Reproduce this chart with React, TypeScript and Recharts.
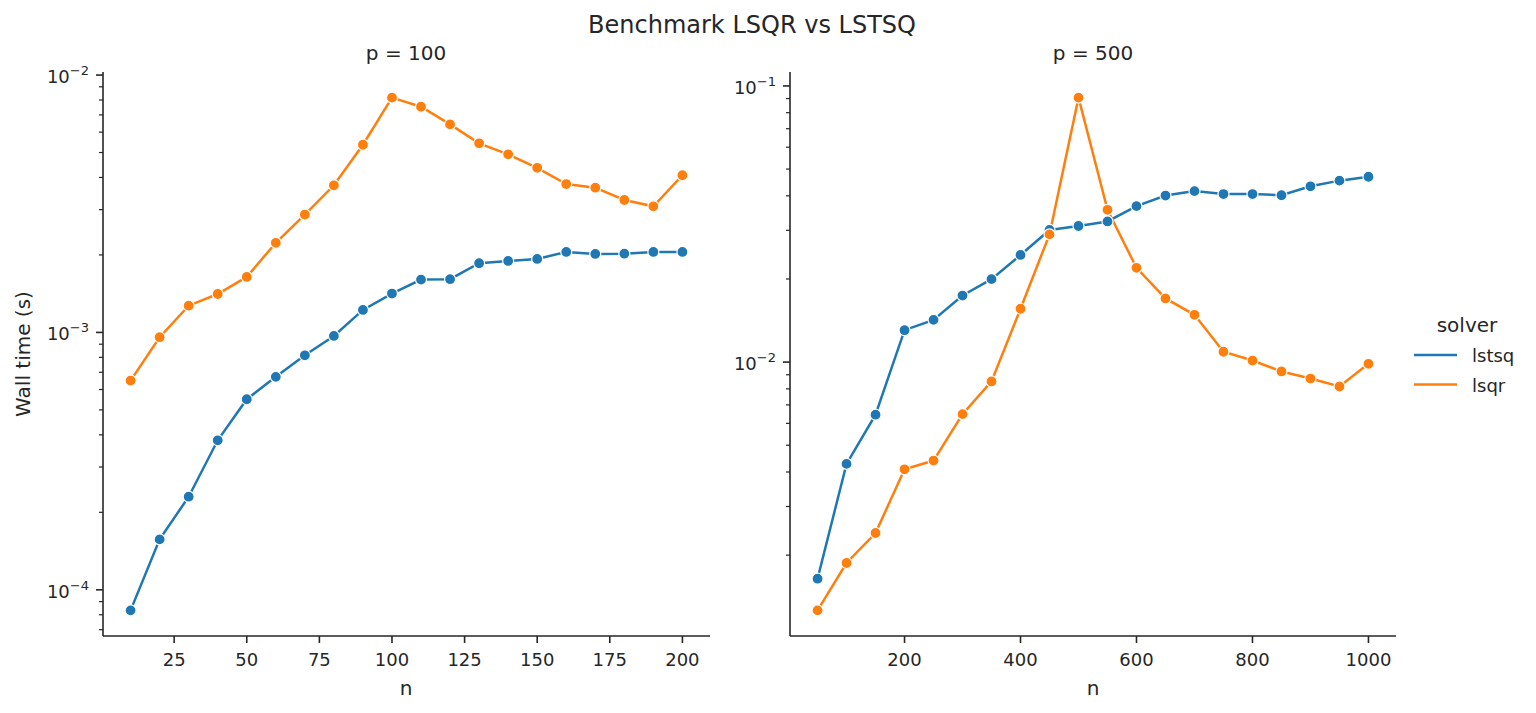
import React from 'react';
import { LineChart, Line, XAxis, YAxis, Text } from 'recharts';

// p = 100 panel
const nP100 = [10, 20, 30, 40, 50, 60, 70, 80, 90, 100, 110, 120, 130, 140, 150, 160, 170, 180, 190, 200];
const lstsqP100 = [
  8.32e-5, 1.57e-4, 2.3e-4, 3.81e-4, 5.5e-4, 6.72e-4, 8.15e-4, 9.69e-4, 1.223e-3, 1.416e-3,
  1.604e-3, 1.61e-3, 1.857e-3, 1.895e-3, 1.93e-3, 2.055e-3, 2.018e-3, 2.023e-3, 2.055e-3, 2.055e-3,
];
const lsqrP100 = [
  6.5e-4, 9.58e-4, 1.27e-3, 1.41e-3, 1.643e-3, 2.23e-3, 2.87e-3, 3.73e-3, 5.36e-3, 8.17e-3,
  7.53e-3, 6.43e-3, 5.43e-3, 4.92e-3, 4.36e-3, 3.77e-3, 3.65e-3, 3.27e-3, 3.09e-3, 4.08e-3,
];

// p = 500 panel
const nP500 = [50, 100, 150, 200, 250, 300, 350, 400, 450, 500, 550, 600, 650, 700, 750, 800, 850, 900, 950, 1000];
const lstsqP500 = [
  1.643e-3, 4.28e-3, 6.45e-3, 1.305e-2, 1.422e-2, 1.742e-2, 1.997e-2, 2.444e-2, 3.01e-2, 3.11e-2,
  3.23e-2, 3.67e-2, 4.01e-2, 4.16e-2, 4.06e-2, 4.06e-2, 4.02e-2, 4.33e-2, 4.54e-2, 4.69e-2,
];
const lsqrP500 = [
  1.262e-3, 1.873e-3, 2.405e-3, 4.09e-3, 4.4e-3, 6.48e-3, 8.51e-3, 1.56e-2, 2.9e-2, 9.07e-2,
  3.56e-2, 2.195e-2, 1.7e-2, 1.483e-2, 1.09e-2, 1.013e-2, 9.25e-3, 8.72e-3, 8.16e-3, 9.86e-3,
];

const xTicksP100 = [25, 50, 75, 100, 125, 150, 175, 200];
const xTicksP500 = [200, 400, 600, 800, 1000];
const decadesP100 = [1e-5, 1e-4, 1e-3, 1e-2];
const decadesP500 = [1e-3, 1e-2, 1e-1];
const minorSteps = [2, 3, 4, 5, 6, 7, 8, 9];

const series = [
  { key: 'lstsq', color: '#1f77b4' },
  { key: 'lsqr', color: '#ff7f0e' },
];

const FONT = 'DejaVu Sans, sans-serif';
const INK = '#262626';

const toRows = (ns: number[], a: number[], b: number[]) =>
  ns.map((n, i) => ({ n, lstsq: a[i], lsqr: b[i] }));

// matplotlib style 5% margins (log space for y, linear for x)
const logDomain = (vals: number[]): [number, number] => {
  const lo = Math.log10(Math.min(...vals));
  const hi = Math.log10(Math.max(...vals));
  const m = (hi - lo) * 0.05;
  return [Math.pow(10, lo - m), Math.pow(10, hi + m)];
};
const linDomain = (vals: number[]): [number, number] => {
  const lo = Math.min(...vals);
  const hi = Math.max(...vals);
  const m = (hi - lo) * 0.05;
  return [lo - m, hi + m];
};

const logTicks = (decades: number[], dom: [number, number]) => {
  const out: number[] = [];
  decades.forEach((d) => {
    out.push(d);
    minorSteps.forEach((s) => out.push(d * s));
  });
  return out.filter((v) => v >= dom[0] && v <= dom[1]);
};

const YTick = (props: any) => {
  const { x, y, payload } = props;
  const v = payload.value;
  const exp = Math.round(Math.log10(v));
  const major = Math.abs(v - Math.pow(10, exp)) / v < 1e-6;
  return (
    <g>
      <line x1={x - (major ? 7 : 4)} x2={x} y1={y} y2={y} stroke={INK} strokeWidth={major ? 1.6 : 1.2} />
      {major && (
        <text x={x - 14} y={y + 8} textAnchor="end" fill={INK} fontFamily={FONT} fontSize={18}>
          <tspan>10</tspan>
          <tspan dy={-8} fontSize={13}>{'\u2212' + Math.abs(exp)}</tspan>
        </text>
      )}
    </g>
  );
};

const XTick = (props: any) => {
  const { x, y, payload } = props;
  return (
    <g>
      <line x1={x} x2={x} y1={y} y2={y + 7} stroke={INK} strokeWidth={1.6} />
      <text x={x} y={y + 30} textAnchor="middle" fill={INK} fontFamily={FONT} fontSize={18}>
        {payload.value}
      </text>
    </g>
  );
};

const Panel: React.FC<{
  rows: any[];
  ns: number[];
  values: number[];
  xTicks: number[];
  decades: number[];
  width: number;
  yAxisWidth: number;
  right: number;
}> = ({ rows, ns, values, xTicks, decades, width, yAxisWidth, right }) => {
  const yDom = logDomain(values);
  const xDom = linDomain(ns);
  return (
    <LineChart width={width} height={713} data={rows} margin={{ top: 72, right, bottom: 0, left: 0 }}>
      <XAxis
        dataKey="n"
        type="number"
        domain={xDom}
        ticks={xTicks}
        interval={0}
        allowDataOverflow
        height={77}
        tickSize={0}
        tickMargin={0}
        tickLine={false}
        tick={<XTick />}
        axisLine={{ stroke: INK, strokeWidth: 1.6 }}
      />
      <YAxis
        type="number"
        scale="log"
        domain={yDom}
        ticks={logTicks(decades, yDom)}
        interval={0}
        allowDataOverflow
        width={yAxisWidth}
        tickSize={0}
        tickMargin={0}
        tickLine={false}
        tick={<YTick />}
        axisLine={{ stroke: INK, strokeWidth: 1.6 }}
      />
      {series.map((s) => (
        <Line
          key={s.key}
          dataKey={s.key}
          stroke={s.color}
          strokeWidth={2.5}
          dot={{ r: 5.5, fill: s.color, stroke: '#fff', strokeWidth: 1.2 }}
          activeDot={false}
          isAnimationActive={false}
        />
      ))}
    </LineChart>
  );
};

const App: React.FC = () => {
  const rowsP100 = toRows(nP100, lstsqP100, lsqrP100);
  const rowsP500 = toRows(nP500, lstsqP500, lsqrP500);
  return (
    <div style={{ position: 'absolute', left: 0, top: 0, width: 1536, height: 713, background: '#fff' }}>
      <div style={{ position: 'absolute', left: 0, top: 0 }}>
        <Panel
          rows={rowsP100}
          ns={nP100}
          values={[...lstsqP100, ...lsqrP100]}
          xTicks={xTicksP100}
          decades={decadesP100}
          width={720}
          yAxisWidth={103}
          right={10}
        />
      </div>
      <div style={{ position: 'absolute', left: 700, top: 0 }}>
        <Panel
          rows={rowsP500}
          ns={nP500}
          values={[...lstsqP500, ...lsqrP500]}
          xTicks={xTicksP500}
          decades={decadesP500}
          width={710}
          yAxisWidth={90}
          right={14}
        />
      </div>
      {/* titles, axis labels and legend */}
      <svg
        width={1536}
        height={713}
        style={{ position: 'absolute', left: 0, top: 0, pointerEvents: 'none' }}
        fontFamily={FONT}
        fill={INK}
      >
        <text x={752} y={33} textAnchor="middle" fontSize={24}>Benchmark LSQR vs LSTSQ</text>
        <text x={406} y={60} textAnchor="middle" fontSize={20}>p = 100</text>
        <text x={1093} y={60} textAnchor="middle" fontSize={20}>p = 500</text>
        <text x={406} y={695} textAnchor="middle" fontSize={20}>n</text>
        <text x={1093} y={695} textAnchor="middle" fontSize={20}>n</text>
        <text x={30} y={354} textAnchor="middle" fontSize={20} transform="rotate(-90 30 354)">Wall time (s)</text>
        <text x={1467} y={332} textAnchor="middle" fontSize={20}>solver</text>
        {series.map((s, i) => (
          <g key={s.key}>
            <line x1={1414} x2={1457} y1={355 + i * 29.5} y2={355 + i * 29.5} stroke={s.color} strokeWidth={2.5} />
            <text x={1472} y={362 + i * 29.5} fontSize={18}>{s.key}</text>
          </g>
        ))}
      </svg>
    </div>
  );
};

export default App;
